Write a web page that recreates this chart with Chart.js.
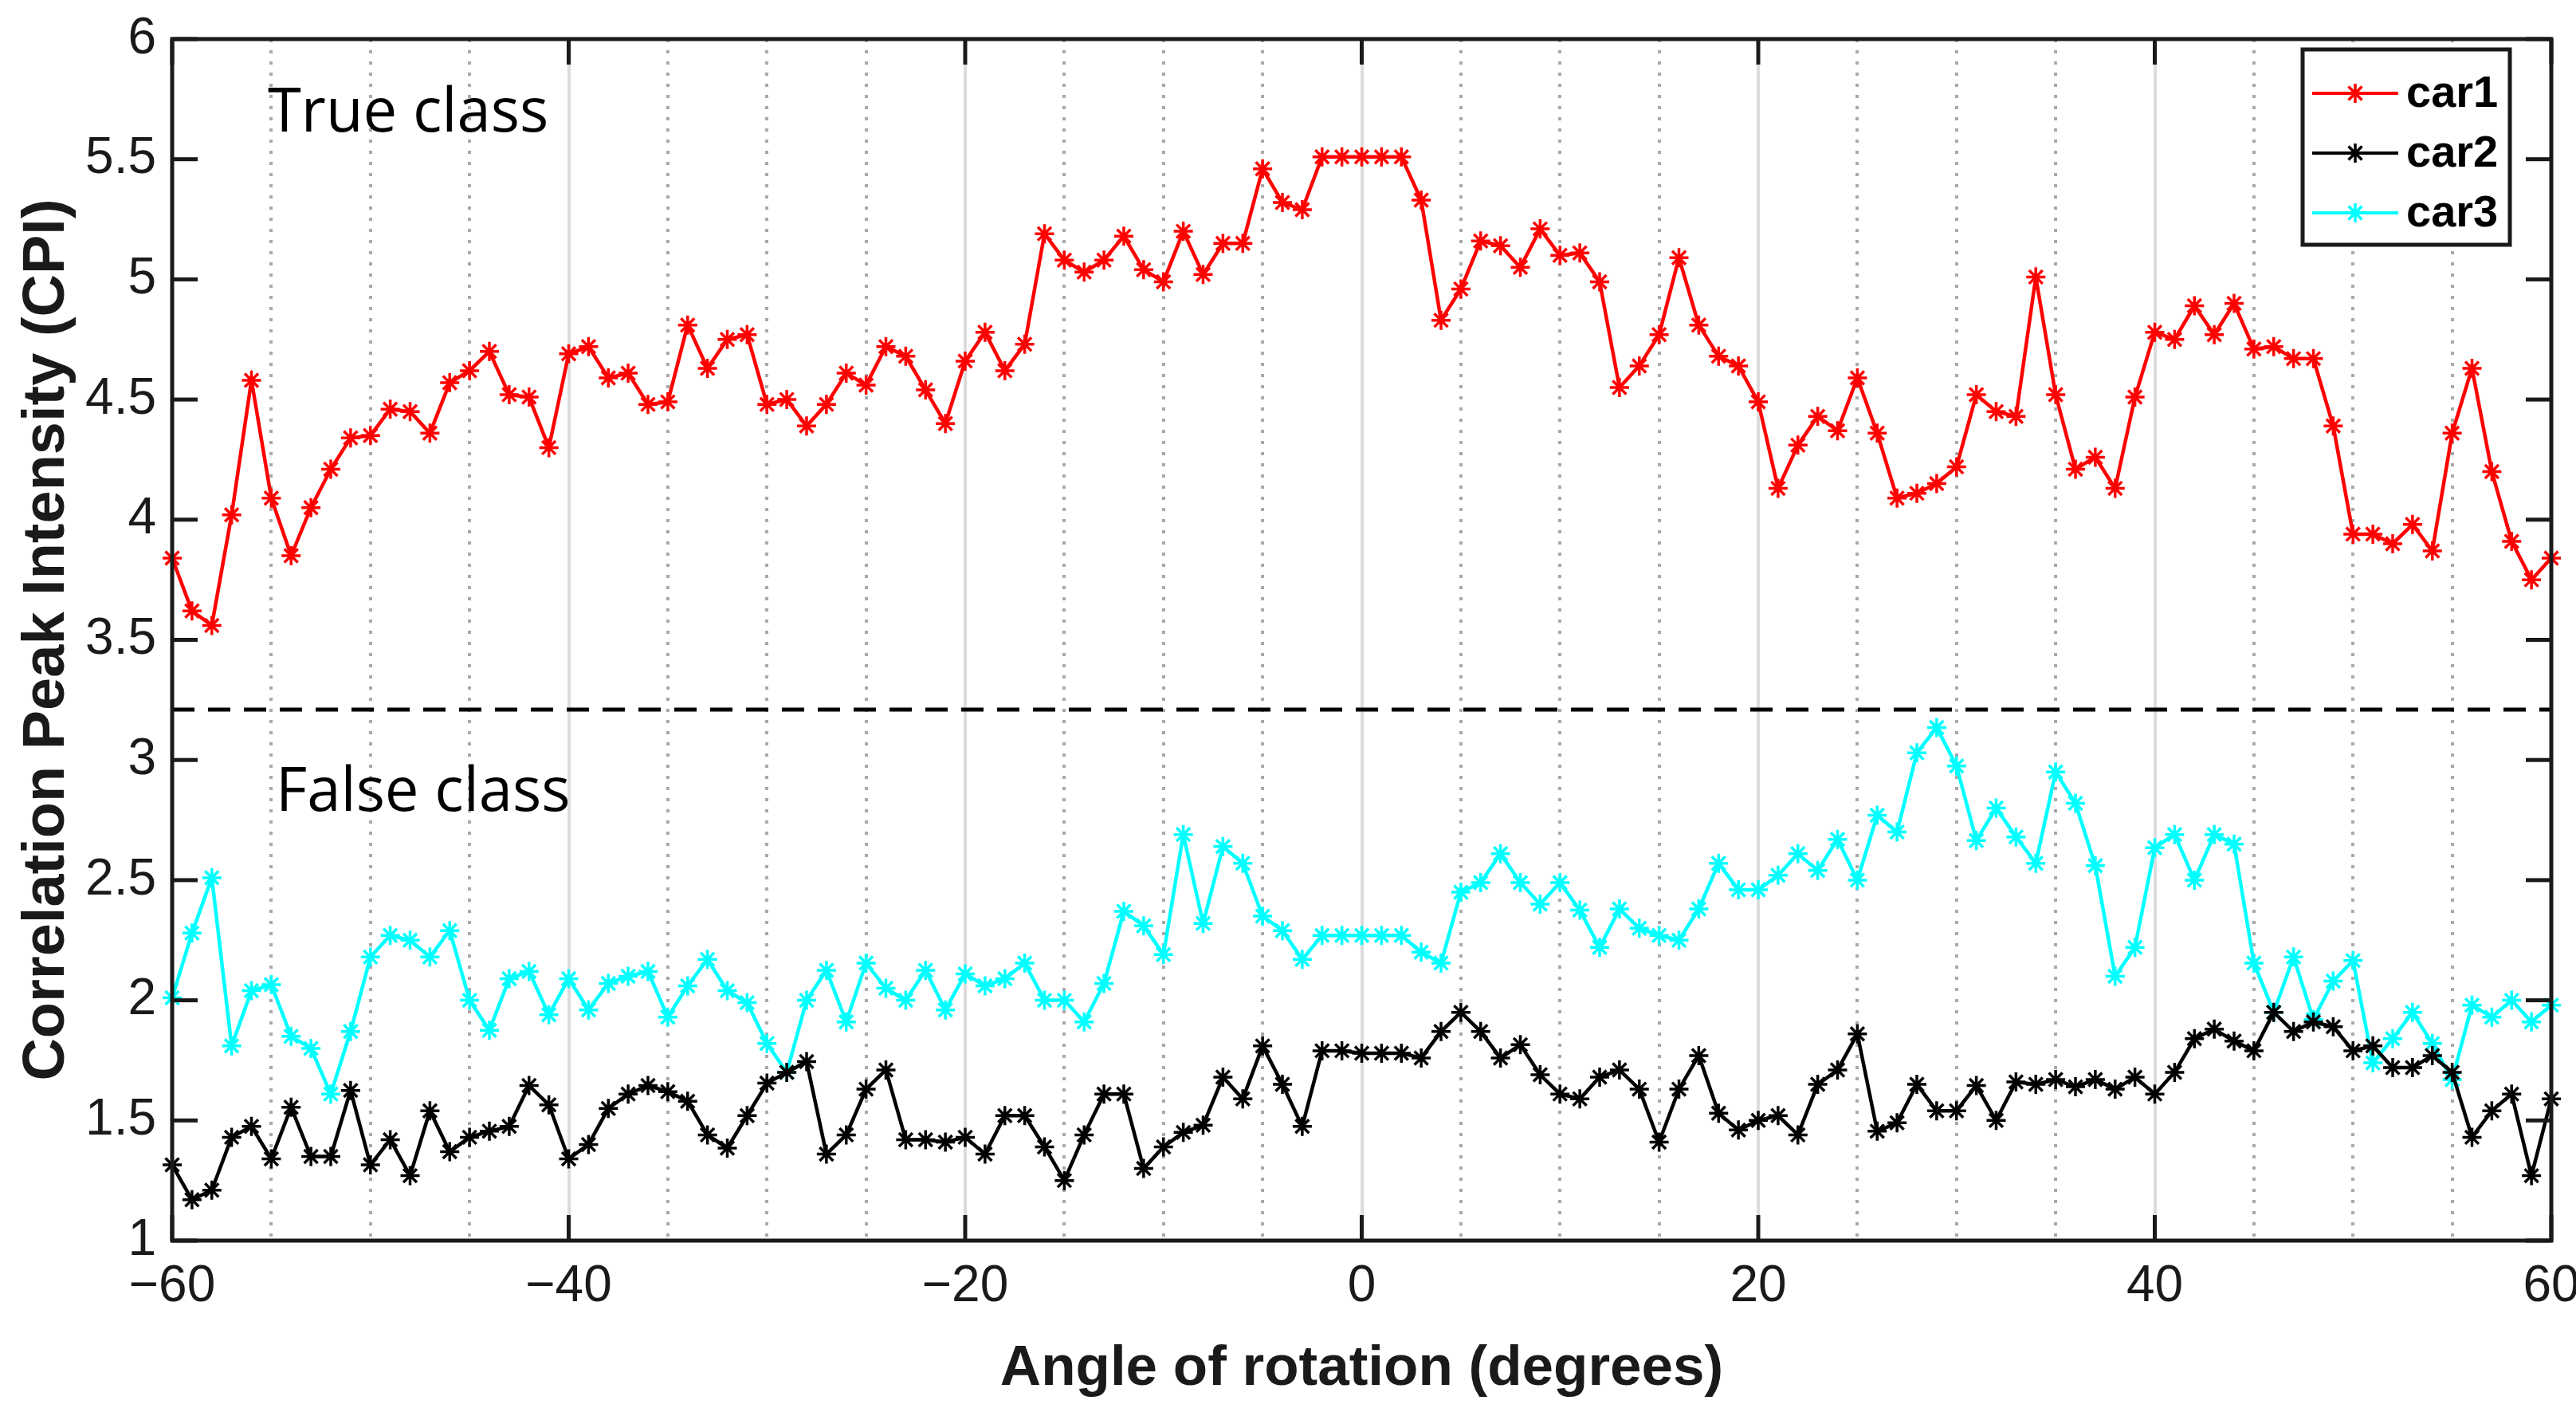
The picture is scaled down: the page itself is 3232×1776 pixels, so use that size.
<!DOCTYPE html>
<html><head><meta charset="utf-8">
<script src="https://cdn.jsdelivr.net/npm/chart.js@4"></script>
<style>html,body{margin:0;padding:0;background:#fff;overflow:hidden;}canvas{display:block;}</style>
</head><body>
<canvas id="c" width="3232" height="1776" style="width:3232px;height:1776px"></canvas>
<script>
const angles = [-60,-59,-58,-57,-56,-55,-54,-53,-52,-51,-50,-49,-48,-47,-46,-45,-44,-43,-42,-41,-40,
-39,-38,-37,-36,-35,-34,-33,-32,-31,-30,-29,-28,-27,-26,-25,-24,-23,-22,-21,-20,
-19,-18,-17,-16,-15,-14,-13,-12,-11,-10,-9,-8,-7,-6,-5,-4,-3,-2,-1,0,
1,2,3,4,5,6,7,8,9,10,11,12,13,14,15,16,17,18,19,20,
21,22,23,24,25,26,27,28,29,30,31,32,33,34,35,36,37,38,39,40,
41,42,43,44,45,46,47,48,49,50,51,52,53,54,55,56,57,58,59,60];

const car1 = [3.84,3.62,3.56,4.02,4.58,4.09,3.85,4.05,4.21,4.34,4.35,4.46,4.45,4.36,4.57,4.62,4.70,4.52,4.51,4.30,4.69,
4.72,4.59,4.61,4.48,4.49,4.81,4.63,4.75,4.77,4.48,4.50,4.39,4.48,4.61,4.56,4.72,4.68,4.54,4.40,4.66,
4.78,4.62,4.73,5.19,5.08,5.03,5.08,5.18,5.04,4.99,5.20,5.02,5.15,5.15,5.46,5.32,5.29,5.51,5.51,5.51,
5.51,5.51,5.33,4.83,4.96,5.16,5.14,5.05,5.21,5.10,5.11,4.99,4.55,4.64,4.77,5.09,4.81,4.68,4.64,4.49,
4.13,4.31,4.43,4.37,4.59,4.36,4.09,4.11,4.15,4.22,4.52,4.45,4.43,5.01,4.52,4.21,4.26,4.13,4.51,4.78,
4.75,4.89,4.77,4.90,4.71,4.72,4.67,4.67,4.39,3.94,3.94,3.90,3.98,3.87,4.36,4.63,4.20,3.91,3.75,3.84];

const car2 = [1.315,1.17,1.21,1.43,1.475,1.34,1.555,1.35,1.35,1.625,1.315,1.42,1.27,1.54,1.37,1.43,1.455,1.475,1.645,1.565,1.34,
1.40,1.55,1.61,1.645,1.62,1.58,1.44,1.385,1.52,1.655,1.70,1.745,1.36,1.44,1.63,1.71,1.42,1.42,1.41,1.43,
1.36,1.52,1.52,1.39,1.25,1.44,1.61,1.61,1.30,1.39,1.45,1.48,1.68,1.59,1.81,1.65,1.475,1.79,1.79,1.78,
1.78,1.78,1.76,1.87,1.95,1.87,1.76,1.815,1.69,1.61,1.59,1.68,1.71,1.63,1.41,1.63,1.77,1.53,1.46,1.50,
1.52,1.44,1.65,1.71,1.86,1.455,1.49,1.65,1.54,1.54,1.645,1.50,1.66,1.65,1.67,1.64,1.67,1.63,1.68,1.61,
1.70,1.84,1.88,1.83,1.79,1.95,1.87,1.91,1.89,1.79,1.81,1.72,1.72,1.77,1.70,1.43,1.54,1.61,1.27,1.59];

const car3 = [2.01,2.28,2.51,1.81,2.04,2.065,1.85,1.80,1.61,1.87,2.18,2.27,2.25,2.18,2.29,2.00,1.875,2.09,2.12,1.94,2.09,
1.96,2.07,2.10,2.12,1.93,2.06,2.17,2.04,1.99,1.82,1.70,2.00,2.125,1.91,2.155,2.05,2.00,2.125,1.96,2.11,
2.06,2.09,2.155,2.00,2.00,1.91,2.07,2.37,2.31,2.19,2.69,2.32,2.64,2.57,2.35,2.29,2.17,2.27,2.27,2.27,
2.27,2.27,2.20,2.155,2.45,2.49,2.61,2.49,2.40,2.49,2.375,2.22,2.38,2.30,2.27,2.25,2.38,2.57,2.46,2.46,
2.52,2.61,2.54,2.67,2.50,2.77,2.70,3.03,3.135,2.975,2.665,2.80,2.68,2.57,2.95,2.82,2.56,2.10,2.22,2.635,
2.69,2.50,2.69,2.65,2.155,1.95,2.18,1.92,2.08,2.165,1.74,1.84,1.95,1.82,1.67,1.98,1.93,2.00,1.91,1.98];

const thresholdLine = [3.21, 3.21];
const thresholdX = [-60, 60];
const xTickValues = [-60,-40,-20,0,20,40,60];
const yTickValues = [1,1.5,2,2.5,3,3.5,4,4.5,5,5.5,6];
const minorGridValues = [-55,-50,-45,-35,-30,-25,-15,-10,-5,5,10,15,25,30,35,45,50,55];
const seriesNames = ['car1','car2','car3'];
const seriesColors = ['#ff0000','#000000','#00ffff'];
const classLabels = ['True class','False class'];
const xTitle = 'Angle of rotation (degrees)';
const yTitle = 'Correlation Peak Intensity (CPI)';

const FONT = "'Liberation Sans', Arial, sans-serif";
const INK = '#1a1a1a';

function mk(vals){ return angles.map((a,i)=>({x:a,y:vals[i]})); }

const seriesDS = [car1,car2,car3].map((vals,i)=>({
  label: seriesNames[i],
  data: mk(vals),
  borderColor: seriesColors[i],
  backgroundColor: seriesColors[i],
  borderWidth: 4.5,
  pointStyle: 'star',
  pointRadius: 12,
  pointBorderWidth: 3.5,
  pointBorderColor: seriesColors[i],
  pointBackgroundColor: seriesColors[i],
  tension: 0,
  clip: false,
  order: 1
}));

const thrDS = {
  label: 'threshold',
  data: thresholdX.map((x,i)=>({x:x,y:thresholdLine[i]})),
  borderColor: '#000000',
  borderWidth: 5,
  borderDash: [28,17],
  pointRadius: 0,
  tension: 0,
  order: 2
};

const decor = {
  id: 'decor',
  beforeDatasetsDraw(chart){
    const {ctx, chartArea:a, scales:{x}} = chart;
    ctx.save();
    ctx.strokeStyle = '#a9a9a9';
    ctx.lineWidth = 4;
    ctx.setLineDash([4,10]);
    minorGridValues.forEach(v=>{
      const px = Math.round(x.getPixelForValue(v));
      ctx.beginPath(); ctx.moveTo(px, a.top); ctx.lineTo(px, a.bottom); ctx.stroke();
    });
    ctx.setLineDash([]);
    ctx.fillStyle = '#000';
    ctx.font = "76px 'Open Sans', sans-serif";
    ctx.textBaseline = 'alphabetic';
    ctx.textAlign = 'left';
    ctx.fillText(classLabels[0], a.left + 120, a.top + 116);
    ctx.fillText(classLabels[1], a.left + 130, a.top + 968);
    ctx.restore();
  },
  afterDraw(chart){
    const {ctx, chartArea:a, scales:{x,y}} = chart;
    ctx.save();
    ctx.strokeStyle = INK;
    ctx.lineWidth = 5;
    ctx.setLineDash([]);
    ctx.strokeRect(a.left, a.top, a.right-a.left, a.bottom-a.top);
    const TL = 32;
    yTickValues.forEach(v=>{
      const py = y.getPixelForValue(v);
      ctx.beginPath(); ctx.moveTo(a.left, py); ctx.lineTo(a.left+TL, py); ctx.stroke();
      ctx.beginPath(); ctx.moveTo(a.right, py); ctx.lineTo(a.right-TL, py); ctx.stroke();
    });
    xTickValues.forEach(v=>{
      const px = x.getPixelForValue(v);
      ctx.beginPath(); ctx.moveTo(px, a.bottom); ctx.lineTo(px, a.bottom-TL); ctx.stroke();
      ctx.beginPath(); ctx.moveTo(px, a.top); ctx.lineTo(px, a.top+TL); ctx.stroke();
    });
    // legend
    const L = {left: 2889, top: 62, right: 3149, bottom: 307};
    ctx.fillStyle = '#fff';
    ctx.fillRect(L.left, L.top, L.right-L.left, L.bottom-L.top);
    ctx.lineWidth = 5;
    ctx.strokeStyle = INK;
    ctx.strokeRect(L.left, L.top, L.right-L.left, L.bottom-L.top);
    const rows = [117, 192, 267];
    chart.data.datasets.filter(d=>seriesNames.includes(d.label)).forEach((d,i)=>{
      const ry = rows[i];
      ctx.strokeStyle = d.borderColor;
      ctx.lineWidth = 4;
      ctx.beginPath(); ctx.moveTo(2901, ry); ctx.lineTo(3009, ry); ctx.stroke();
      if (Chart.helpers && Chart.helpers.drawPoint) {
        ctx.lineWidth = 3.5;
        ctx.strokeStyle = d.borderColor;
        ctx.fillStyle = d.borderColor;
        Chart.helpers.drawPoint(ctx, {pointStyle:'star', radius:12, rotation:0, borderWidth:3.5}, 2955, ry);
      }
      ctx.fillStyle = '#000';
      ctx.font = "bold 56px " + FONT;
      ctx.textBaseline = 'middle';
      ctx.textAlign = 'left';
      ctx.fillText(d.label, 3019, ry + 2);
    });
    ctx.restore();
  }
};

Chart.defaults.font.family = FONT;
Chart.defaults.color = INK;

new Chart(document.getElementById('c'), {
  type: 'line',
  data: { datasets: [...seriesDS, thrDS] },
  options: {
    responsive: false,
    animation: false,
    devicePixelRatio: 1,
    layout: { padding: {top: 49, right: 31, left: 0, bottom: 0} },
    plugins: { legend: {display:false}, tooltip: {enabled:false}, title:{display:false} },
    scales: {
      x: {
        type: 'linear', min: -60, max: 60,
        afterBuildTicks: s => { s.ticks = xTickValues.map(v=>({value:v})); },
        afterFit: s => { s.height = 220; s.paddingLeft = 0; s.paddingRight = 0; },
        grid: {
          display: true, drawTicks: false, lineWidth: 4,
          color: c => (c.tick && c.tick.value > -60 && c.tick.value < 60) ? '#dcdcdc' : 'rgba(0,0,0,0)'
        },
        border: {display: false},
        ticks: {
          font: {size: 64}, color: INK, padding: 20, maxRotation: 0, autoSkip: false,
          callback: v => String(v).replace('-', '\u2212')
        },
        title: {display: true, text: xTitle, font: {size: 71, weight: 'bold'}, color: INK, padding: {top: 0, bottom: 16}}
      },
      y: {
        type: 'linear', min: 1, max: 6,
        afterBuildTicks: s => { s.ticks = yTickValues.map(v=>({value:v})); },
        afterFit: s => { s.width = 216; s.paddingTop = 0; s.paddingBottom = 0; },
        grid: {display: false},
        border: {display: false},
        ticks: { font: {size: 64}, color: INK, padding: 12, callback: v => String(v) },
        title: {display: true, text: yTitle, font: {size: 74, weight: 'bold'}, color: INK, padding: {top: 15, bottom: 0}}
      }
    }
  },
  plugins: [decor]
});
</script>
</body></html>
